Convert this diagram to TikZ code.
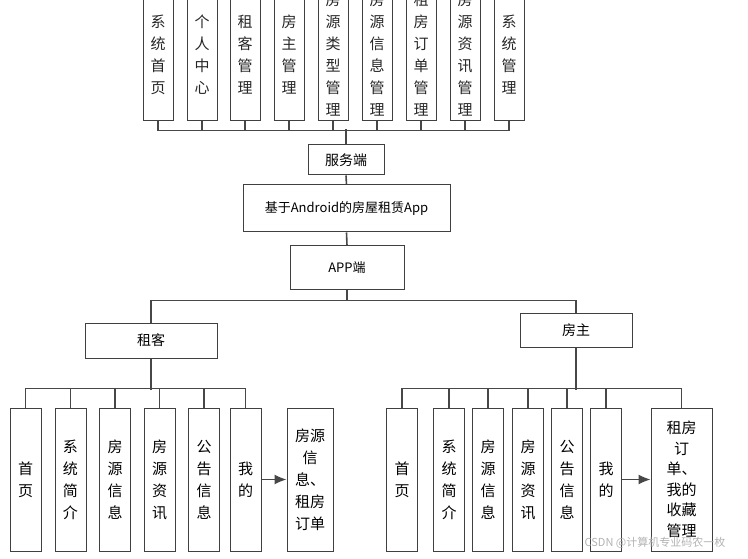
\documentclass[tikz,border=0pt]{standalone}
\usepackage{fontspec}
\setmainfont{Noto Sans CJK SC}
\usetikzlibrary{arrows.meta}
\begin{document}
\begin{tikzpicture}[x=1pt,y=-1pt]
\tikzset{
 box/.style={draw=black!75,line width=1pt,inner sep=0pt,align=center,font=\fontsize{15}{22}\selectfont},
 vt/.style={inner sep=0pt,anchor=north,align=center,font=\fontsize{15}{22}\selectfont,text=black!85},
 tall/.style={box,minimum width=30pt,minimum height=161pt},
 low/.style={box,minimum width=31pt,minimum height=143pt},
 ln/.style={draw=black!72,line width=1.2pt},
 arr/.style={ln,-{Latex[length=12pt,width=10pt]}}
}
\useasboundingbox (0,0) rectangle (748,559);
\clip (0,0) rectangle (748,559);
% top boxes
\foreach \n/\x/\t/\yy in {1/158/系\\统\\首\\页/15,2/202/个\\人\\中\\心/15,3/245/租\\客\\管\\理/15,4/289/房\\主\\管\\理/15,5/333/房\\源\\类\\型\\管\\理/-7,6/377/房\\源\\信\\息\\管\\理/-7,7/421/租\\房\\订\\单\\管\\理/-7,8/465/房\\源\\资\\讯\\管\\理/-7,9/509/系\\统\\管\\理/15}{
 \node[tall] (t\n) at (\x,40.5) {};
 \node[vt] (tt\n) at (\x,\yy) {\t};
}
\node[box,minimum width=76pt,minimum height=30pt,font=\fontsize{14}{16}\selectfont] (svc) at (346,160) {服务端};
\node[box,minimum width=207pt,minimum height=47pt,font=\fontsize{13}{16}\selectfont] (base) at (346.5,208.5) {基于Android的房屋租赁App};
\node[box,minimum width=114pt,minimum height=44pt,font=\fontsize{13}{16}\selectfont] (app) at (347,268) {APP端};
\node[box,minimum width=132pt,minimum height=35pt,font=\fontsize{14}{16}\selectfont] (zk) at (151,340.5) {租客};
\node[box,minimum width=112pt,minimum height=34pt,font=\fontsize{14}{16}\selectfont] (fz) at (576,330) {房主};
% left group
\foreach \n/\x/\t in {1/25.5/首\\页,2/70.5/系\\统\\简\\介,3/115/房\\源\\信\\息,4/159.5/房\\源\\资\\讯,5/204/公\\告\\信\\息,6/245.5/我\\的}{
 \node[low] (l\n) at (\x,479.5) {\t};
}
\node[box,minimum width=46pt,minimum height=143pt,font=\fontsize{15}{22}\selectfont] (l7) at (310,479.5) {房源\\信\\息、\\租房\\订单};
% right group
\foreach \n/\x/\t in {1/402/首\\页,2/449/系\\统\\简\\介,3/488/房\\源\\信\\息,4/528/房\\源\\资\\讯,5/567/公\\告\\信\\息,6/606/我\\的}{
 \node[low] (r\n) at (\x,479.5) {\t};
}
\node[box,minimum width=61pt,minimum height=143pt,font=\fontsize{15}{20.5}\selectfont] (r7) at (681.5,479.5) {租房\\订\\单、\\我的\\收藏\\管理};
% connectors top
\draw[ln] (t1.south) -- ++(0,9) -| (t9.south);
\foreach \n in {2,...,8} \draw[ln] (t\n.south) -- ++(0,9);
\draw[ln,line width=1.6pt] (svc.north) -- ++(0,-15);
\draw[ln,line width=1.6pt] (svc.south) -- (base.north);
\draw[ln,line width=1.6pt] (base.south) -- (app.north);
\draw[ln] (app.south) -- ++(0,10) coordinate (j);
\draw[ln] (zk.north) |- (j) -| (fz.north);
% left bracket
\draw[ln] (l1.north) -- ++(0,-19) -| (l6.north);
\foreach \n in {2,...,5} \draw[ln] (l\n.north) -- ++(0,-19);
\draw[ln,line width=1.6pt] (zk.south) -- ++(0,31);
\draw[arr] (l6.east) -- (l7.west);
% right bracket
\draw[ln] (r1.north) -- ++(0,-19) -| (r7.north);
\foreach \n in {2,...,6} \draw[ln] (r\n.north) -- ++(0,-19);
\draw[ln,line width=1.6pt] (fz.south) -- ++(0,42);
\draw[arr] (r6.east) -- (r7.west);
\node[text=black!30,font=\fontsize{11}{12}\selectfont] (wm) at (655,543) {CSDN @计算机专业码农一枚};
\end{tikzpicture}
\end{document}
